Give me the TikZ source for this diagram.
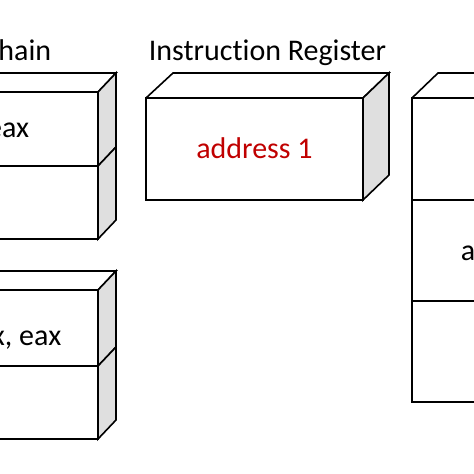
\documentclass[tikz,border=0pt]{standalone}
\usepackage{fontspec}
\setmainfont[Ligatures=NoCommon]{Carlito}
\definecolor{addrred}{RGB}{192,0,0}

\begin{document}
\begin{tikzpicture}[x=1pt, y=-1pt, line width=1.6pt, line join=miter,
  side/.style={fill=gray!25, draw=black},
  txt/.style={inner sep=0pt, font=\fontsize{30}{36}\selectfont}]
  \useasboundingbox (0,0) rectangle (474,474);
  \clip (0,0) rectangle (474,474);

  % --- ROP Chain (venstre stak) ---
  \node[txt, anchor=base east] (chaintitle) at (52,60) {ROP Chain};
  \draw (-119,92) -- (-101,73) -- (116,73) -- (98,92);
  \draw[side] (98,92) -- (116,73) -- (116,147) -- (98,166) -- cycle;
  \draw[side] (98,166) -- (116,147) -- (116,220) -- (98,239) -- cycle;
  \draw (-119,92) rectangle (98,166);
  \draw (-119,166) rectangle (98,239);
  \node[txt, anchor=base east] (popeax) at (30,137) {pop eax};

  \draw (-119,290) -- (-101,271) -- (116,271) -- (98,290);
  \draw[side] (98,290) -- (116,271) -- (116,347) -- (98,366) -- cycle;
  \draw[side] (98,366) -- (116,347) -- (116,420) -- (98,439) -- cycle;
  \draw (-119,290) rectangle (98,366);
  \draw (-119,366) rectangle (98,439);
  \node[txt, anchor=base east] (moveax) at (62,345) {mov ebx, eax};

  % --- Instruction Register ---
  \node[txt, anchor=base] (irtitle) at (267.5,60) {Instruction Register};
  \draw (146,98) -- (173,73) -- (389,73) -- (363,98);
  \draw[side] (363,98) -- (389,73) -- (389,175) -- (363,200) -- cycle;
  \draw (146,98) rectangle (363,200);
  \node[txt, anchor=base, text=addrred] (iraddr) at (254.5,158) {address 1};

  % --- hoejre stak ---
  \draw (412,98) -- (438,73) -- (655,73) -- (629,98);
  \draw (412,98) rectangle (629,200);
  \draw (412,200) rectangle (629,301);
  \draw (412,301) rectangle (629,402);
  \node[txt, anchor=base west] (stackaddr) at (460,260) {address 1};
\end{tikzpicture}
\end{document}
